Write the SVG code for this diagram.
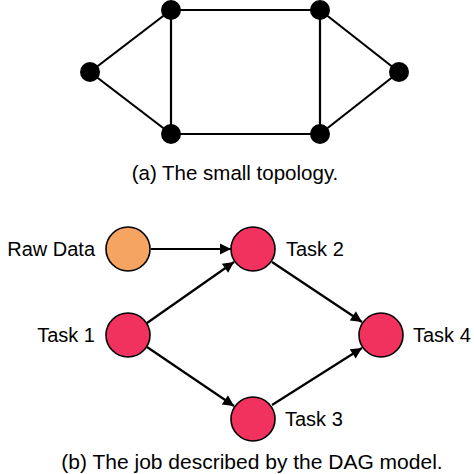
<svg xmlns="http://www.w3.org/2000/svg" width="474" height="474" viewBox="0 0 474 474">
<style>
.e{stroke:#000;stroke-width:2.2;fill:none}
.d{fill:#000}
.c{stroke:#000;stroke-width:1.6}
.t{font-family:"Liberation Sans",Arial,sans-serif;font-size:20px;fill:#000}
.cap{font-family:"Liberation Sans",Arial,sans-serif;font-size:20.5px;fill:#000;text-anchor:middle}
</style>
<defs>
<marker id="ah" viewBox="0 0 10 10" refX="10" refY="5" markerWidth="12" markerHeight="11" orient="auto" markerUnits="userSpaceOnUse" style="overflow:visible">
<path d="M0,0 L10,5 L0,10 z" fill="#000"/>
</marker>
</defs>
<rect width="474" height="474" fill="#fff"/>
<g id="topology-edges">
<line class="e" x1="171" y1="10" x2="320" y2="10"/>
<line class="e" x1="171" y1="134" x2="320" y2="134"/>
<line class="e" x1="171" y1="10" x2="171" y2="134"/>
<line class="e" x1="320" y1="10" x2="320" y2="134"/>
<line class="e" x1="90" y1="72" x2="171" y2="10"/>
<line class="e" x1="90" y1="72" x2="171" y2="134"/>
<line class="e" x1="399" y1="72" x2="320" y2="10"/>
<line class="e" x1="399" y1="72" x2="320" y2="134"/>
</g>
<g id="t1"><circle class="d" cx="171" cy="10" r="10"/></g>
<g id="t2"><circle class="d" cx="320" cy="10" r="10"/></g>
<g id="t3"><circle class="d" cx="90" cy="72" r="10"/></g>
<g id="t4"><circle class="d" cx="399" cy="72" r="10"/></g>
<g id="t5"><circle class="d" cx="171" cy="134" r="10"/></g>
<g id="t6"><circle class="d" cx="320" cy="134" r="10"/></g>
<text class="cap" x="235" y="180">(a) The small topology.</text>
<g id="connectors" stroke="#000" stroke-width="2.2" fill="none">
<line x1="151" y1="249" x2="231" y2="249" marker-end="url(#ah)"/>
<line x1="147" y1="323" x2="234" y2="262" marker-end="url(#ah)"/>
<line x1="147" y1="347" x2="234" y2="406" marker-end="url(#ah)"/>
<line x1="272" y1="262" x2="362" y2="322" marker-end="url(#ah)"/>
<line x1="272" y1="405" x2="362" y2="348" marker-end="url(#ah)"/>
</g>
<g id="rawdata"><circle class="c" cx="128" cy="249" r="22" fill="#F5A462"/><text class="t" x="95" y="256" text-anchor="end">Raw Data</text></g>
<g id="task1"><circle class="c" cx="128" cy="335" r="22" fill="#F2325E"/><text class="t" x="95" y="342" text-anchor="end">Task 1</text></g>
<g id="task2"><circle class="c" cx="253" cy="249" r="22" fill="#F2325E"/><text class="t" x="286" y="256">Task 2</text></g>
<g id="task3"><circle class="c" cx="253" cy="419" r="22" fill="#F2325E"/><text class="t" x="285" y="426">Task 3</text></g>
<g id="task4"><circle class="c" cx="381" cy="335" r="22" fill="#F2325E"/><text class="t" x="413" y="342">Task 4</text></g>
<text class="cap" x="252" y="469" style="font-size:21px">(b) The job described by the DAG model.</text>
</svg>
